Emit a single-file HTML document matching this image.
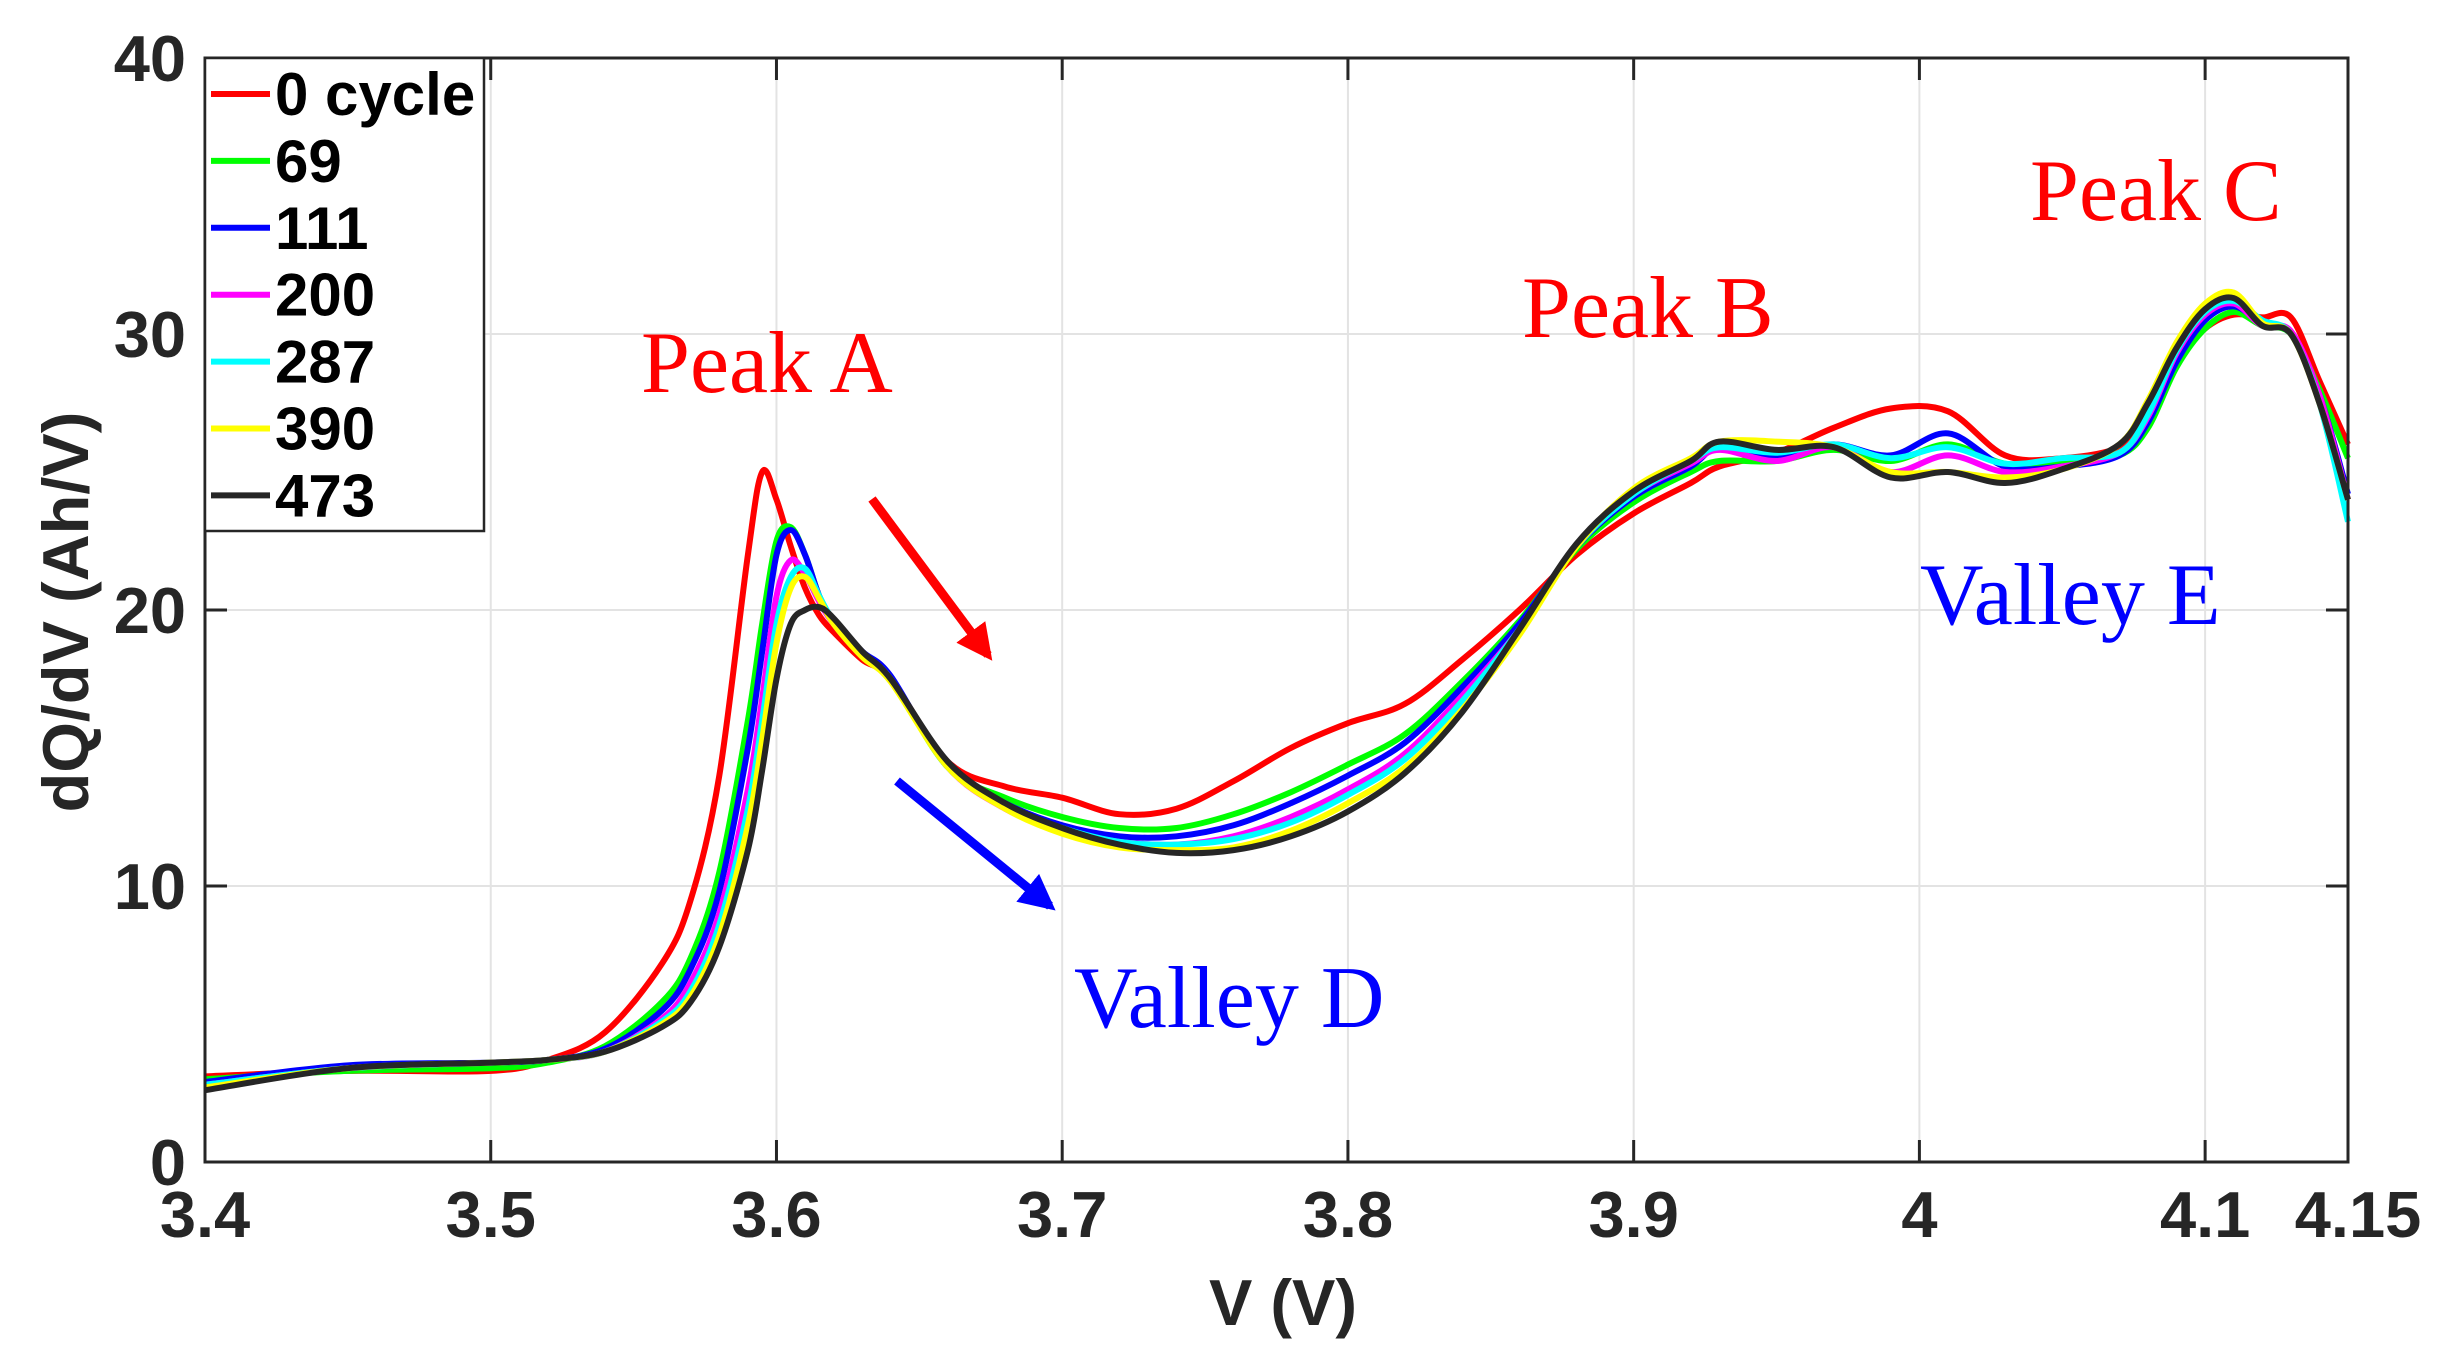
<!DOCTYPE html>
<html><head><meta charset="utf-8"><style>
html,body{margin:0;padding:0;background:#fff}
svg{display:block}
text{font-family:"Liberation Sans",sans-serif}
</style></head><body>
<svg id="chart" width="2446" height="1363" viewBox="0 0 2446 1363" xmlns="http://www.w3.org/2000/svg">
<defs>
<marker id="ahRed" viewBox="0 0 10 10" refX="8" refY="5" markerWidth="4" markerHeight="4" orient="auto"><path d="M0,0 L10,5 L0,10 z" fill="#ff0000"/></marker>
<marker id="ahBlue" viewBox="0 0 10 10" refX="8" refY="5" markerWidth="4" markerHeight="4" orient="auto"><path d="M0,0 L10,5 L0,10 z" fill="#0000ff"/></marker>
</defs>
<g id="grid"></g>
<g id="series"></g>
<g id="axes"></g>
<text transform="translate(88,612) rotate(-90)" text-anchor="middle" font-size="65" font-weight="bold" fill="#262626">dQ/dV (Ah/V)</text>
<text x="1283" y="1325" text-anchor="middle" font-size="65" font-weight="bold" fill="#262626">V (V)</text>
<g font-family="Liberation Serif, serif" font-size="88">
<text x="641" y="392" fill="#ff0000" style="font-family:'Liberation Serif',serif">Peak A</text>
<text x="1522" y="337" fill="#ff0000" style="font-family:'Liberation Serif',serif">Peak B</text>
<text x="2030" y="220" fill="#ff0000" style="font-family:'Liberation Serif',serif">Peak C</text>
<text x="1920" y="624" fill="#0000ff" style="font-family:'Liberation Serif',serif">Valley E</text>
<text x="1074" y="1027" fill="#0000ff" style="font-family:'Liberation Serif',serif">Valley D</text>
</g>
<line x1="872" y1="499" x2="988" y2="655" stroke="#ff0000" stroke-width="9" marker-end="url(#ahRed)"/>
<line x1="897" y1="781" x2="1050" y2="906" stroke="#0000ff" stroke-width="9" marker-end="url(#ahBlue)"/>
<g id="legend"></g>
</svg>
<script>
const V = [3.4,3.45,3.5,3.52,3.54,3.56,3.57,3.58,3.59,3.595,3.6,3.605,3.61,3.615,3.62,3.63,3.64,3.66,3.68,3.7,3.72,3.74,3.76,3.78,3.8,3.82,3.84,3.86,3.88,3.9,3.92,3.93,3.95,3.97,3.99,4.01,4.03,4.05,4.07,4.08,4.09,4.1,4.11,4.12,4.13,4.14,4.15];
const s0 = [3.1,3.3,3.3,3.7,4.7,7.2,9.5,14.0,22.0,25.0,24.0,22.3,20.8,19.8,19.2,18.2,17.5,14.5,13.6,13.2,12.6,12.8,13.8,15.0,15.9,16.6,18.2,20.0,22.0,23.5,24.6,25.2,25.7,26.6,27.3,27.2,25.6,25.5,25.9,27.0,29.0,30.2,30.7,30.6,30.6,28.3,26.0];
const s69 = [3.0,3.3,3.4,3.6,4.2,5.8,7.4,10.5,16,19.5,22.5,23.0,22.0,20.5,19.6,18.4,17.5,14.3,13.2,12.5,12.1,12.1,12.6,13.4,14.4,15.5,17.4,19.6,22.2,23.9,25.0,25.4,25.4,25.8,25.4,26.0,25.3,25.3,25.6,26.6,28.8,30.2,30.8,30.3,30.0,28.0,25.5];
const s111 = [2.9,3.5,3.6,3.7,4.1,5.5,7.0,9.8,15,18.5,22.0,22.9,22.0,20.5,19.6,18.5,17.6,14.3,13.0,12.2,11.8,11.8,12.2,13.0,14.0,15.2,17.2,19.5,22.3,24.1,25.2,25.9,25.6,26.0,25.6,26.4,25.2,25.2,25.6,26.8,29.0,30.5,31.0,30.4,30.0,27.8,24.2];
const s200 = [2.8,3.4,3.6,3.7,4.0,5.2,6.5,9.0,13.5,16.8,20.5,21.8,21.3,20.3,19.5,18.4,17.5,14.3,12.8,12.0,11.6,11.5,11.8,12.5,13.5,14.8,16.9,19.3,22.3,24.2,25.3,25.8,25.4,25.9,25.0,25.6,25.0,25.2,25.7,27.0,29.3,30.7,31.1,30.3,30.1,27.8,24.0];
const s287 = [2.8,3.4,3.6,3.7,4.0,5.1,6.2,8.6,12.8,16,19.5,21.2,21.5,20.5,19.6,18.4,17.5,14.3,12.9,12.1,11.6,11.5,11.7,12.3,13.3,14.6,16.7,19.3,22.3,24.2,25.4,25.9,25.7,26.0,25.5,25.9,25.3,25.5,25.7,27.1,29.4,30.8,31.2,30.5,30.0,27.5,23.2];
const s390 = [2.7,3.4,3.6,3.7,4.0,5.0,6.0,8.2,12.2,15.3,18.8,20.8,21.2,20.4,19.5,18.3,17.4,14.3,12.8,11.9,11.4,11.3,11.4,12.0,13.0,14.3,16.4,19.1,22.3,24.4,25.5,26.1,26.1,25.9,25.0,25.0,24.8,25.1,26.0,27.6,29.7,31.1,31.5,30.4,30.0,27.5,24.0];
const s473 = [2.6,3.4,3.6,3.7,4.0,4.9,5.8,7.8,11.3,14.2,17.5,19.5,20.0,20.1,19.7,18.5,17.5,14.5,13.0,12.1,11.5,11.2,11.3,11.8,12.7,14.1,16.3,19.3,22.4,24.3,25.4,26.1,25.8,25.9,24.8,25.0,24.6,25.1,26.0,27.5,29.5,30.9,31.3,30.3,30.0,27.5,24.0];
const seriesNames = ["0 cycle","69","111","200","287","390","473"];
const seriesColors = ["#ff0000","#00ff00","#0000ff","#ff00ff","#00ffff","#ffff00","#262626"];
const xTicks = [3.4,3.5,3.6,3.7,3.8,3.9,4.0,4.1,4.15];
const xTickLabels = ["3.4","3.5","3.6","3.7","3.8","3.9","4","4.1","4.15"];
const yTicks = [0,10,20,30,40];
const yTickLabels = ["0","10","20","30","40"];

const NS="http://www.w3.org/2000/svg";
const L=205,R=2348,T=58,B=1162,XMIN=3.4,XMAX=4.15,YMIN=0,YMAX=40;
const xs=v=>L+(v-XMIN)/(XMAX-XMIN)*(R-L);
const ys=v=>B-(v-YMIN)/(YMAX-YMIN)*(B-T);
function mk(tag,attrs,parent){const e=document.createElementNS(NS,tag);for(const k in attrs)e.setAttribute(k,attrs[k]);parent.appendChild(e);return e;}
const grid=document.getElementById('grid'),axes=document.getElementById('axes'),ser=document.getElementById('series'),leg=document.getElementById('legend');
xTicks.forEach((t,i)=>{
  const x=xs(t);
  if(t>XMIN&&t<XMAX){const g=mk('line',{x1:x,x2:x,y1:T,y2:B,stroke:'#e3e3e3','stroke-width':2},grid);
  
  
  const tk=mk('line',{x1:x,x2:x,y1:B,y2:B-22,stroke:'#262626','stroke-width':3},axes);
  
  
  const tk2=mk('line',{x1:x,x2:x,y1:T,y2:T+22,stroke:'#262626','stroke-width':3},axes);
  
  }
  const tx=mk('text',{x:(t===XMAX?x+10:x),y:1237,'text-anchor':'middle','font-size':65,'font-weight':'bold',fill:'#262626'},axes);
  tx.textContent=xTickLabels[i];
  
  
});
yTicks.forEach((t,i)=>{
  const y=ys(t);
  if(t>YMIN&&t<YMAX){const g=mk('line',{x1:L,x2:R,y1:y,y2:y,stroke:'#e3e3e3','stroke-width':2},grid);
  
  
  const tk=mk('line',{x1:L,x2:L+22,y1:y,y2:y,stroke:'#262626','stroke-width':3},axes);
  
  
  const tk2=mk('line',{x1:R,x2:R-22,y1:y,y2:y,stroke:'#262626','stroke-width':3},axes);
  
  }
  const tx=mk('text',{x:186,y:y+23,'text-anchor':'end','font-size':65,'font-weight':'bold',fill:'#262626'},axes);
  tx.textContent=yTickLabels[i];
  
  
});
const frame=mk('rect',{x:L,y:T,width:R-L,height:B-T,fill:'none',stroke:'#262626','stroke-width':3},axes);



function smooth(pts){
  let d='M'+pts[0][0].toFixed(1)+','+pts[0][1].toFixed(1);
  for(let i=0;i<pts.length-1;i++){
    const p0=pts[i-1]||pts[i],p1=pts[i],p2=pts[i+1],p3=pts[i+2]||p2;
    const c1=[p1[0]+(p2[0]-p0[0])/6,p1[1]+(p2[1]-p0[1])/6];
    const c2=[p2[0]-(p3[0]-p1[0])/6,p2[1]-(p3[1]-p1[1])/6];
    d+=' C'+c1[0].toFixed(1)+','+c1[1].toFixed(1)+' '+c2[0].toFixed(1)+','+c2[1].toFixed(1)+' '+p2[0].toFixed(1)+','+p2[1].toFixed(1);
  }
  return d;
}
const allSeries=[s0,s69,s111,s200,s287,s390,s473];
allSeries.forEach((s,k)=>{
  const pts=V.map((v,i)=>[xs(v),ys(s[i])]);
  const p=mk('path',{d:smooth(pts),fill:'none',stroke:seriesColors[k],'stroke-width':6,'stroke-linejoin':'round'},ser);
  
  
});
const box=mk('rect',{x:L,y:T,width:279,height:473,fill:'#fff',stroke:'#262626','stroke-width':2.5},leg);


seriesNames.forEach((n,k)=>{
  const y=94+k*66.9;
  const g=mk('g',{},leg);
  
  
  mk('line',{x1:211,x2:270,y1:y,y2:y,stroke:seriesColors[k],'stroke-width':6},g);
  const t=mk('text',{x:275,y:y+21,'font-size':60,'font-weight':'bold',fill:'#000'},g);
  t.textContent=n;
  
  
});
</script>
</body></html>
